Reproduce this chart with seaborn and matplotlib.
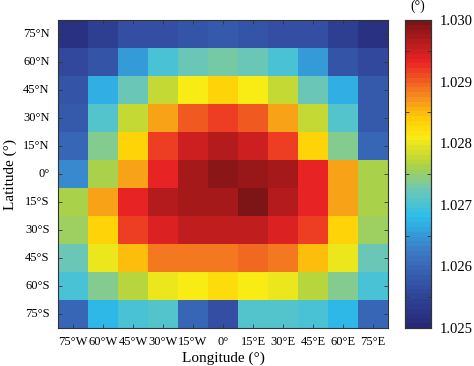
import numpy as np
import pandas as pd
import seaborn as sns
import matplotlib
matplotlib.use("Agg")
import matplotlib.pyplot as plt
from matplotlib.colors import LinearSegmentedColormap

lon_labels = ["75°W", "60°W", "45°W", "30°W", "15°W", "0°", "15°E", "30°E", "45°E", "60°E", "75°E"]
lat_labels = ["75°N", "60°N", "45°N", "30°N", "15°N", "0°", "15°S", "30°S", "45°S", "60°S", "75°S"]

# values in degrees (rows: 75N -> 75S, cols: 75W -> 75E)
row_75N = [1.02520, 1.02545, 1.02565, 1.02570, 1.02575, 1.02580, 1.02575, 1.02570, 1.02565, 1.02545, 1.02520]
row_60N = [1.02560, 1.02575, 1.02650, 1.02700, 1.02725, 1.02730, 1.02725, 1.02700, 1.02650, 1.02575, 1.02560]
row_45N = [1.02575, 1.02665, 1.02725, 1.02775, 1.02810, 1.02830, 1.02810, 1.02775, 1.02725, 1.02665, 1.02580]
row_30N = [1.02585, 1.02705, 1.02780, 1.02860, 1.02900, 1.02915, 1.02900, 1.02860, 1.02780, 1.02705, 1.02585]
row_15N = [1.02600, 1.02735, 1.02830, 1.02915, 1.02950, 1.02965, 1.02950, 1.02920, 1.02830, 1.02735, 1.02600]
row_0 = [1.02640, 1.02765, 1.02865, 1.02935, 1.02975, 1.02990, 1.02980, 1.02975, 1.02935, 1.02865, 1.02765]
row_15S = [1.02765, 1.02865, 1.02935, 1.02965, 1.02975, 1.02975, 1.02995, 1.02965, 1.02935, 1.02865, 1.02765]
row_30S = [1.02750, 1.02835, 1.02920, 1.02940, 1.02955, 1.02955, 1.02955, 1.02940, 1.02920, 1.02835, 1.02750]
row_45S = [1.02725, 1.02800, 1.02850, 1.02885, 1.02885, 1.02885, 1.02895, 1.02890, 1.02850, 1.02800, 1.02725]
row_60S = [1.02700, 1.02740, 1.02770, 1.02800, 1.02810, 1.02825, 1.02810, 1.02800, 1.02770, 1.02740, 1.02700]
row_75S = [1.02600, 1.02675, 1.02700, 1.02710, 1.02600, 1.02570, 1.02710, 1.02710, 1.02700, 1.02675, 1.02600]

data = pd.DataFrame([row_75N, row_60N, row_45N, row_30N, row_15N, row_0,
                     row_15S, row_30S, row_45S, row_60S, row_75S],
                    index=lat_labels, columns=lon_labels)

cb_ticks = [1.025, 1.026, 1.027, 1.028, 1.029, 1.030]
cb_ticklabels = ["1.025", "1.026", "1.027", "1.028", "1.029", "1.030"]

stops = [
    (0.00, (38, 40, 120)),
    (0.12, (50, 75, 160)),
    (0.25, (60, 125, 200)),
    (0.36, (45, 190, 235)),
    (0.45, (110, 200, 180)),
    (0.53, (175, 210, 65)),
    (0.62, (250, 235, 20)),
    (0.68, (255, 205, 5)),
    (0.75, (245, 145, 30)),
    (0.87, (235, 35, 35)),
    (1.00, (125, 20, 22)),
]
cmap = LinearSegmentedColormap.from_list(
    "mjet", [(p, tuple(c / 255 for c in col)) for p, col in stops], N=64)

plt.rcParams["font.family"] = ["Liberation Serif", "DejaVu Serif"]

fig = plt.figure(figsize=(4.74, 3.66), dpi=100)
ax = fig.add_axes([58 / 474, 1 - 328 / 366, 330 / 474, 308 / 366])
cax = fig.add_axes([405 / 474, 1 - 328 / 366, 26 / 474, 308 / 366])

sns.heatmap(data, ax=ax, cmap=cmap, vmin=1.025, vmax=1.030, cbar_ax=cax,
            linewidths=0, cbar_kws={"ticks": cb_ticks})

ax.set_xlabel("Longitude (°)", fontsize=11, labelpad=2)
ax.set_ylabel("Latitude (°)", fontsize=11)
ax.set_xticklabels(lon_labels, rotation=0, fontsize=9)
ax.set_yticklabels(lat_labels, rotation=0, fontsize=9)
ax.tick_params(direction="in", length=3, width=0.6, top=True, right=True,
               pad=6, colors="#333333", labelcolor="black")
for s in ax.spines.values():
    s.set_visible(True)
    s.set_linewidth(0.8)
    s.set_color("#333333")

cax.set_yticks(cb_ticks)
cax.set_yticklabels(cb_ticklabels, fontsize=10.5)
cax.set_yticks(np.arange(1.0255, 1.0300, 0.0005), minor=True)
cax.tick_params(which="both", direction="in", length=3, width=0.6, left=True, right=True,
                colors="#333333", labelcolor="black", pad=6)
cax.tick_params(which="major", length=0)
for s in cax.spines.values():
    s.set_visible(True)
    s.set_linewidth(0.8)
    s.set_color("#333333")
cax.set_title("(°)", fontsize=10, pad=7)

fig.savefig("out.png", dpi=100)
